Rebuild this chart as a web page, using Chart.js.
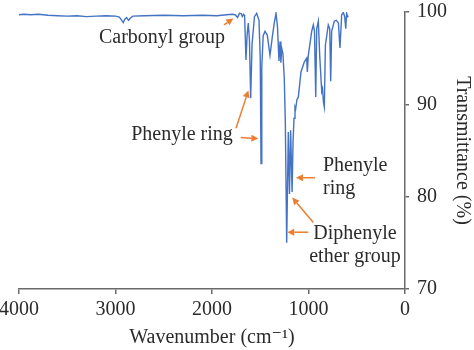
<!DOCTYPE html>
<html>
<head>
<meta charset="utf-8">
<script src="https://cdn.jsdelivr.net/npm/chart.js@4.4.1/dist/chart.umd.min.js"></script>
<style>
  html, body { margin: 0; padding: 0; background: #fff; }
  #wrap { width: 474px; height: 350px; position: relative; }
</style>
</head>
<body>
<div id="wrap"><canvas id="ftir"></canvas></div>
<script>
// FTIR spectrum, wavenumber (cm-1) vs transmittance (%)
const wavenumber = [
  4000, 3950, 3880, 3800, 3700, 3600, 3500, 3400, 3300, 3200, 3100, 3000,
  2960, 2935, 2920, 2905, 2885, 2865, 2850, 2820, 2700, 2500, 2300, 2100,
  1950, 1850, 1790, 1760, 1735, 1715, 1695, 1686, 1672, 1662, 1648, 1636,
  1624, 1612, 1599, 1585, 1560, 1537, 1513, 1500, 1492, 1484, 1470, 1451,
  1427, 1399, 1375, 1355, 1337, 1322, 1313, 1306, 1295, 1286, 1278, 1265,
  1251, 1240, 1226, 1209, 1197, 1185, 1170, 1160, 1150, 1140, 1133, 1120,
  1105, 1078, 1043, 1019, 1012, 1002, 967, 950, 938, 925, 915, 898,
  884, 863, 855, 845, 836, 825, 795, 780, 770, 760, 733, 712,
  690, 674, 656, 639, 625, 614, 605, 595, 587
];
const transmittance = [
  99.7, 99.75, 99.7, 99.75, 99.65, 99.6, 99.55, 99.6, 99.5, 99.55, 99.6, 99.55,
  99.45, 99.1, 98.85, 99.2, 99.4, 99.1, 99.3, 99.55, 99.6, 99.65, 99.6, 99.65,
  99.6, 99.7, 99.75, 99.7, 99.4, 99.85, 99.8, 99.5, 99.75, 99.6, 94.8, 97.5,
  98.8, 97.0, 90.65, 96.5, 99.5, 99.86, 99.1, 95.0, 83.6, 94.0, 97.4, 97.9,
  97.5, 95.3, 97.3, 98.8, 99.86, 98.5, 96.4, 94.7, 96.8, 94.5, 96.1, 95.5,
  92.8, 88.0, 75.0, 87.0, 80.3, 87.2, 80.5, 86.0, 88.5, 89.7, 89.5, 90.5,
  90.8, 93.5, 94.6, 95.0, 93.5, 95.3, 97.9, 98.6, 97.9, 90.8, 98.2, 99.0,
  95.3, 91.4, 91.7, 90.2, 89.7, 96.4, 98.6, 98.2, 92.5, 97.9, 99.0, 99.1,
  98.8, 96.1, 99.7, 99.95, 99.5, 98.2, 99.86, 99.5, 99.6
];
const xTicks = [4000, 3000, 2000, 1000, 0];
const yTicks = [70, 80, 90, 100];

// band labels and arrows, anchored in data units
const bandLabels = [
  { lines: ['Carbonyl group'], x: 2518, y: 97.2, align: 'center' },
  { lines: ['Phenyle ring'], x: 2311, y: 86.7, align: 'center' },
  { lines: ['Phenyle', 'ring'], x: 850, y: 83.4, align: 'left' },
  { lines: ['Diphenyle', 'ether group'], x: 518, y: 76.0, align: 'center' }
];
const bandArrows = [
  { from: [1876, 98.6], to: [1779, 99.3] },
  { from: [1751, 87.4], to: [1623, 91.5] },
  { from: [1703, 86.4], to: [1520, 86.3] },
  { from: [933, 82.05], to: [1130, 82.05] },
  { from: [1002, 76.15], to: [1220, 76.15] },
  { from: [950, 77.2], to: [1168, 79.9] }
];

const serif = '"Liberation Serif", "DejaVu Serif", serif';
const textColor = '#2b2b2b';
const axisColor = '#6a6a6a';
const arrowColor = '#ed7d31';

const points = wavenumber.map((w, i) => ({ x: w, y: transmittance[i] }));

const bandNotes = {
  id: 'bandNotes',
  afterDatasetsDraw(chart) {
    const ctx = chart.ctx;
    const xs = chart.scales.x, ys = chart.scales.y;
    ctx.save();
    ctx.strokeStyle = arrowColor;
    ctx.fillStyle = arrowColor;
    ctx.lineWidth = 1.5;
    bandArrows.forEach(a => {
      const x0 = xs.getPixelForValue(a.from[0]), y0 = ys.getPixelForValue(a.from[1]);
      const x1 = xs.getPixelForValue(a.to[0]), y1 = ys.getPixelForValue(a.to[1]);
      const ang = Math.atan2(y1 - y0, x1 - x0);
      const len = 7, half = 3.5;
      const bx = x1 - len * Math.cos(ang), by = y1 - len * Math.sin(ang);
      ctx.beginPath();
      ctx.moveTo(x0, y0);
      ctx.lineTo(bx, by);
      ctx.stroke();
      ctx.beginPath();
      ctx.moveTo(x1, y1);
      ctx.lineTo(bx + half * Math.sin(ang), by - half * Math.cos(ang));
      ctx.lineTo(bx - half * Math.sin(ang), by + half * Math.cos(ang));
      ctx.closePath();
      ctx.fill();
    });
    ctx.fillStyle = textColor;
    ctx.font = '20px ' + serif;
    ctx.textBaseline = 'middle';
    bandLabels.forEach(l => {
      ctx.textAlign = l.align;
      const x = xs.getPixelForValue(l.x);
      const y = ys.getPixelForValue(l.y);
      l.lines.forEach((t, i) => ctx.fillText(t, x, y + i * 23.5));
    });
    ctx.restore();
  }
};

new Chart(document.getElementById('ftir'), {
  type: 'line',
  data: {
    datasets: [{
      data: points,
      borderColor: '#4472c4',
      borderWidth: 1.4,
      pointRadius: 0,
      tension: 0,
      fill: false
    }]
  },
  options: {
    responsive: true,
    maintainAspectRatio: false,
    animation: false,
    layout: { padding: { left: 19, top: 12, right: 0, bottom: 0 } },
    plugins: {
      legend: { display: false },
      tooltip: { enabled: false }
    },
    scales: {
      x: {
        type: 'linear',
        reverse: true,
        min: 0,
        max: 4000,
        afterBuildTicks: s => { s.ticks = xTicks.map(v => ({ value: v })); },
        ticks: {
          color: textColor,
          font: { family: serif, size: 20 },
          padding: 4,
          maxRotation: 0,
          callback: v => String(v)
        },
        grid: { drawOnChartArea: false, drawTicks: true, tickLength: 5, color: axisColor, lineWidth: 1.5 },
        border: { display: true, color: axisColor, width: 1.5 },
        title: {
          display: true,
          text: 'Wavenumber (cm⁻¹)',
          color: textColor,
          font: { family: serif, size: 20 },
          padding: { top: 0, bottom: 0 }
        },
        afterFit: s => { s.paddingLeft = 0; s.paddingRight = 0; s.height = 61; }
      },
      y: {
        position: 'right',
        min: 70,
        max: 100,
        afterBuildTicks: s => { s.ticks = yTicks.map(v => ({ value: v })); },
        ticks: {
          color: textColor,
          font: { family: serif, size: 20 },
          padding: 8,
          callback: v => String(v)
        },
        grid: { drawOnChartArea: false, drawTicks: true, tickLength: 4, color: axisColor, lineWidth: 1.5 },
        border: { display: true, color: axisColor, width: 1.5 },
        title: {
          display: true,
          text: 'Transmittance (%)',
          color: textColor,
          font: { family: serif, size: 20 },
          padding: 0
        },
        afterFit: s => { s.width = 69; s.paddingTop = 0; s.paddingBottom = 0; }
      }
    }
  },
  plugins: [bandNotes]
});
</script>
</body>
</html>
